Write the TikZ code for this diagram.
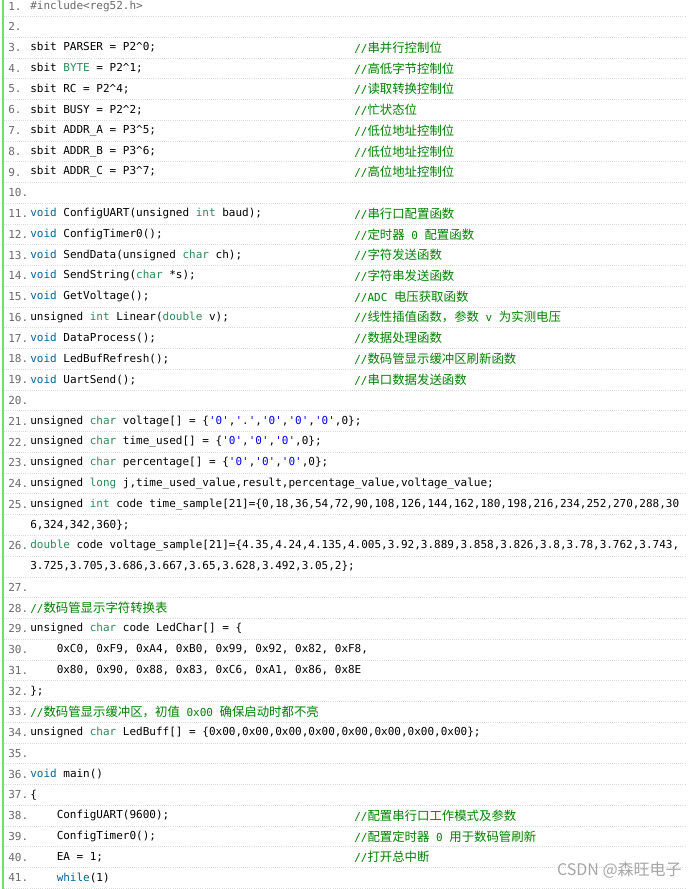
\documentclass[tikz,border=0pt]{standalone}
\usepackage{fontspec}
\setmonofont{DejaVu Sans Mono}
\newfontfamily\cjkf{Noto Sans CJK SC}
\newfontfamily\wmf{Noto Sans CJK SC}
\definecolor{kwc}{HTML}{006699}
\definecolor{tyc}{HTML}{2E8B57}
\definecolor{stc}{HTML}{0000FF}
\definecolor{cmc}{HTML}{008200}
\definecolor{lnc}{HTML}{6A6A6A}
\definecolor{sepc}{HTML}{DADADA}
\definecolor{barc}{HTML}{6CE26C}
\newcommand\kw[1]{\textcolor{kwc}{#1}}
\newcommand\ty[1]{\textcolor{tyc}{#1}}
\newcommand\st[1]{\textcolor{stc}{#1}}
\newcommand\cmt[1]{\textcolor{cmc}{#1}}
\newcommand\cj[1]{{\cjkf\fontsize{9.3pt}{10pt}\selectfont #1}}
\newcommand\rowy[1]{6+20.76*#1}
\newcommand\cl[3]{%
  \node[lnum] (n#1) at (8,{\rowy{#1}}) {#2.};
  \node[codet] (c#1) at (30,{\rowy{#1}}) {#3};}
\newcommand\clw[2]{%
  \node[codet] (w#1) at (30,{\rowy{#1}}) {#2};}
\newcommand\clc[4]{%
  \cl{#1}{#2}{#3}
  \node[codet] (m#1) at (354,{\rowy{#1}}) {\cmt{#4}};}
\begin{document}
\begin{tikzpicture}[x=0.75pt,y=-0.75pt,
  codet/.style={anchor=west,inner sep=0pt,font=\ttfamily\fontsize{8.25pt}{10pt}\selectfont,text=black},
  lnum/.style={codet,text=lnc},
  sepl/.style={draw=sepc,densely dotted,line width=0.6pt}]
\useasboundingbox (0,0) rectangle (689,889);
\fill[white] (0,0) rectangle (689,889);
\foreach \r in {0,...,42}{
  \pgfmathsetmacro\yt{6+20.76*\r-10.38}
  \draw[sepl] (4,\yt+20.76) -- (685,\yt+20.76);
}
\fill[barc] (2,0) rectangle (4,889);
\cl{0}{1}{\textcolor{lnc}{\#include<reg52.h>}}
\cl{1}{2}{}
\clc{2}{3}{sbit PARSER = P2\textasciicircum0;}{//\cj{串并行控制位}}
\clc{3}{4}{sbit \ty{BYTE} = P2\textasciicircum1;}{//\cj{高低字节控制位}}
\clc{4}{5}{sbit RC = P2\textasciicircum4;}{//\cj{读取转换控制位}}
\clc{5}{6}{sbit BUSY = P2\textasciicircum2;}{//\cj{忙状态位}}
\clc{6}{7}{sbit ADDR\_A = P3\textasciicircum5;}{//\cj{低位地址控制位}}
\clc{7}{8}{sbit ADDR\_B = P3\textasciicircum6;}{//\cj{低位地址控制位}}
\clc{8}{9}{sbit ADDR\_C = P3\textasciicircum7;}{//\cj{高位地址控制位}}
\cl{9}{10}{}
\clc{10}{11}{\kw{void} ConfigUART(unsigned \ty{int} baud);}{//\cj{串行口配置函数}}
\clc{11}{12}{\kw{void} ConfigTimer0();}{//\cj{定时器} 0 \cj{配置函数}}
\clc{12}{13}{\kw{void} SendData(unsigned \ty{char} ch);}{//\cj{字符发送函数}}
\clc{13}{14}{\kw{void} SendString(\ty{char} *s);}{//\cj{字符串发送函数}}
\clc{14}{15}{\kw{void} GetVoltage();}{//ADC \cj{电压获取函数}}
\clc{15}{16}{unsigned \ty{int} Linear(\ty{double} v);}{//\cj{线性插值函数，参数} v \cj{为实测电压}}
\clc{16}{17}{\kw{void} DataProcess();}{//\cj{数据处理函数}}
\clc{17}{18}{\kw{void} LedBufRefresh();}{//\cj{数码管显示缓冲区刷新函数}}
\clc{18}{19}{\kw{void} UartSend();}{//\cj{串口数据发送函数}}
\cl{19}{20}{}
\cl{20}{21}{unsigned \ty{char} voltage[] = \{\st{'0'},\st{'.'},\st{'0'},\st{'0'},\st{'0'},0\};}
\cl{21}{22}{unsigned \ty{char} time\_used[] = \{\st{'0'},\st{'0'},\st{'0'},0\};}
\cl{22}{23}{unsigned \ty{char} percentage[] = \{\st{'0'},\st{'0'},\st{'0'},0\};}
\cl{23}{24}{unsigned \ty{long} j,time\_used\_value,result,percentage\_value,voltage\_value;}
\cl{24}{25}{unsigned \ty{int} code time\_sample[21]=\{0,18,36,54,72,90,108,126,144,162,180,198,216,234,252,270,288,30}
\clw{25}{6,324,342,360\};}
\cl{26}{26}{\ty{double} code voltage\_sample[21]=\{4.35,4.24,4.135,4.005,3.92,3.889,3.858,3.826,3.8,3.78,3.762,3.743,}
\clw{27}{3.725,3.705,3.686,3.667,3.65,3.628,3.492,3.05,2\};}
\cl{28}{27}{}
\cl{29}{28}{\cmt{//\cj{数码管显示字符转换表}}}
\cl{30}{29}{unsigned \ty{char} code LedChar[] = \{}
\cl{31}{30}{\ \ \ \ 0xC0, 0xF9, 0xA4, 0xB0, 0x99, 0x92, 0x82, 0xF8,}
\cl{32}{31}{\ \ \ \ 0x80, 0x90, 0x88, 0x83, 0xC6, 0xA1, 0x86, 0x8E}
\cl{33}{32}{\};}
\cl{34}{33}{\cmt{//\cj{数码管显示缓冲区，初值} 0x00 \cj{确保启动时都不亮}}}
\cl{35}{34}{unsigned \ty{char} LedBuff[] = \{0x00,0x00,0x00,0x00,0x00,0x00,0x00,0x00\};}
\cl{36}{35}{}
\cl{37}{36}{\kw{void} main()}
\cl{38}{37}{\{}
\clc{39}{38}{\ \ \ \ ConfigUART(9600);}{//\cj{配置串行口工作模式及参数}}
\clc{40}{39}{\ \ \ \ ConfigTimer0();}{//\cj{配置定时器} 0 \cj{用于数码管刷新}}
\clc{41}{40}{\ \ \ \ EA = 1;}{//\cj{打开总中断}}
\cl{42}{41}{\ \ \ \ \kw{while}(1)}
\node[anchor=east,inner sep=0pt,text=black!35,font=\wmf\fontsize{12pt}{14pt}\selectfont] (wm) at (682,870) {CSDN @森旺电子};
\end{tikzpicture}
\end{document}
